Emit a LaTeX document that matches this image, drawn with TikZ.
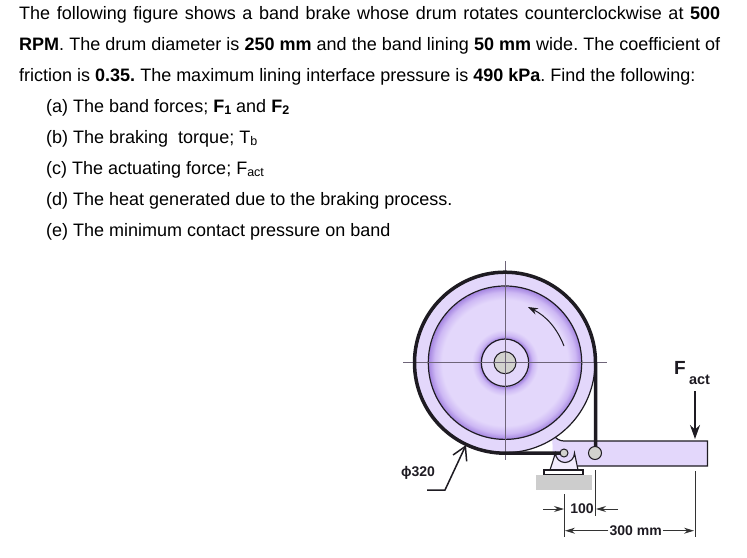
\documentclass[tikz,border=0pt]{standalone}
\usepackage{fontspec}
\setmainfont{Liberation Sans}
\usetikzlibrary{arrows.meta}
\definecolor{lav}{HTML}{E3D7FB}
\definecolor{glow}{HTML}{A383E0}
\definecolor{lav2}{HTML}{CDB8F4}
\definecolor{ink}{HTML}{1E1B22}
\definecolor{cline}{HTML}{6E6478}
\definecolor{pingray}{HTML}{D2D2CE}
\definecolor{ground}{HTML}{CDCDCD}
\definecolor{brack}{HTML}{F2ECFD}
\pgfdeclareradialshading{drumshade}{\pgfpoint{0bp}{0bp}}{color(0bp)=(lav); color(7.7bp)=(lav); color(7.8bp)=(glow); color(9bp)=(lav2); color(10.8bp)=(lav); color(20.5bp)=(lav); color(23bp)=(lav2); color(25bp)=(glow)}
\tikzset{
  para/.style={anchor=base west,inner sep=0pt,font=\fontsize{18}{20}\selectfont,text=black},
  thinline/.style={draw=ink,line width=1.2pt},
  band/.style={draw=ink,line width=3.5pt},
  cross/.style={draw=cline,line width=1pt},
  dimline/.style={draw=black!80,line width=0.9pt},
  dimarrow/.style={dimline,-{Stealth[length=10pt,width=6pt]}},
  dimtext/.style={inner sep=1pt,font=\fontsize{14}{16}\bfseries\selectfont,text=ink},
  pin/.style={circle,draw=ink,line width=1pt,fill=pingray,inner sep=0pt}
}
\newcommand{\subx}[1]{\raisebox{-2pt}{\fontsize{12.5}{14}\selectfont #1}}
\begin{document}
\begin{tikzpicture}[x=1pt,y=-1pt]
\useasboundingbox[fill=white] (0,0) rectangle (747,557);
\frenchspacing
% text
\node[para] (l1) at (19,19) {\makebox[701pt][s]{The following figure shows a band brake whose drum rotates counterclockwise at \textbf{500}}};
\node[para] (l2) at (19,50) {\makebox[701pt][s]{\textbf{RPM}. The drum diameter is \textbf{250 mm} and the band lining \textbf{50 mm} wide. The coefficient of}};
\node[para] (l3) at (19,81) {friction is \textbf{0.35.} The maximum lining interface pressure is \textbf{490 kPa}. Find the following:};
\node[para] (a) at (46,112) {(a) The band forces; \textbf{F\subx{1}} and \textbf{F\subx{2}}};
\node[para] (b) at (46,143) {(b) The braking\ \ torque; T\subx{b}};
\node[para] (c) at (46,174) {(c) The actuating force; F\subx{act}};
\node[para] (d) at (46,205) {(d) The heat generated due to the braking process.};
\node[para] (e) at (46,236) {(e) The minimum contact pressure on band};
% lever
\coordinate (P) at (564,453);
\coordinate (Q) at (595,453);
\fill[lav] (707.5,441) -- (564,441) arc[start angle=90,end angle=180,radius=12] -- (553,460) -- (577,466) -- (707.5,466) -- cycle;
\draw[draw=ink,line width=1.2pt] (577,466) -- (707.5,466) -- (707.5,441) -- (564,441) arc[start angle=90,end angle=190,radius=12];
% drum
\coordinate (O) at (505,362.7);
\fill[lav] (O) circle[radius=90];
\draw[thinline] (O) circle[radius=90];
\shade[shading=drumshade] (O) circle[radius=76.7];
\draw[thinline] (O) circle[radius=76.7];
\draw[thinline] (O) circle[radius=23.7];
% centre lines
\draw[cross] (403,362.7) -- (607,362.7);
\draw[cross] (505,261) -- (505,460);
% shaft
\fill[pingray,draw=ink,line width=1pt] (O) circle[radius=11];
\draw[cline,line width=0.7pt] (494,362.7) -- (516,362.7) (505,352) -- (505,374);
% rotation arrow
\draw[draw=ink,line width=1pt,-{Stealth[length=10pt,width=7pt]}] (564,346) .. controls (557,328) and (546,316) .. (528,307);
% bracket
\filldraw[fill=brack,draw=ink,line width=1.1pt] (550,470) -- (555.5,453) arc[start angle=180,end angle=0,radius=9.5] -- (578,470) -- cycle;
% ground and base
\fill[ground] (536,475) rectangle (592,490);
\draw[thinline,fill=white] (544,470) rectangle (583,474.5);
% band
\draw[band,line cap=round,line join=round] (595.5,453) -- (595.5,362.7) arc[start angle=0,delta angle=-270,radius=90.5] -- (564,453.2);
% pins
\node[pin,minimum size=8pt] (pivot) at (P) {};
\node[pin,minimum size=13pt] (leverpin) at (Q) {};
% F act
\node[inner sep=0pt,font=\fontsize{19}{21}\bfseries\selectfont,text=ink] (F) at (680,368) {F};
\node[inner sep=0pt,font=\fontsize{14.5}{16}\bfseries\selectfont,text=ink] (act) at (699.5,380) {act};
\coordinate (fs) at (695,391);
\coordinate (fe) at (695,439);
\draw[draw=ink,line width=1.6pt,-{Stealth[length=14pt,width=10pt]}] (fs) -- (fe);
% phi 320
\node[dimtext] (phi) at (418,472.7) {ϕ320};
\coordinate (la) at (427,490);
\coordinate (lb) at (445,490);
\coordinate (lc) at (466,445);
\draw[draw=ink,line width=1.5pt,-{Straight Barb[length=13pt,width=15pt]}] (la) -- (lb) -- (lc);
% dimensions
\coordinate (e1a) at (564.5,494); \coordinate (e1b) at (564.5,537);
\coordinate (e2a) at (595,470); \coordinate (e2b) at (595,516);
\coordinate (e3a) at (695,471); \coordinate (e3b) at (695,537);
\draw[dimline] (e1a) -- (e1b);
\draw[dimline] (e2a) -- (e2b);
\draw[dimline] (e3a) -- (e3b);
\node[dimtext] (d100) at (582,509) {100};
\node[dimtext] (d300) at (635.7,530.7) {300 mm};
\coordinate (a1) at (543,509); \coordinate (a1e) at (564,509);
\coordinate (a2) at (618,509); \coordinate (a2e) at (596,509);
\draw[dimarrow] (a1) -- (a1e);
\draw[dimarrow] (a2) -- (a2e);
\coordinate (b1e) at (565,530.7); \coordinate (b2e) at (694,530.7);
\draw[dimarrow] (d300.west) -- (b1e);
\draw[dimarrow] (d300.east) -- (b2e);
\end{tikzpicture}
\end{document}
